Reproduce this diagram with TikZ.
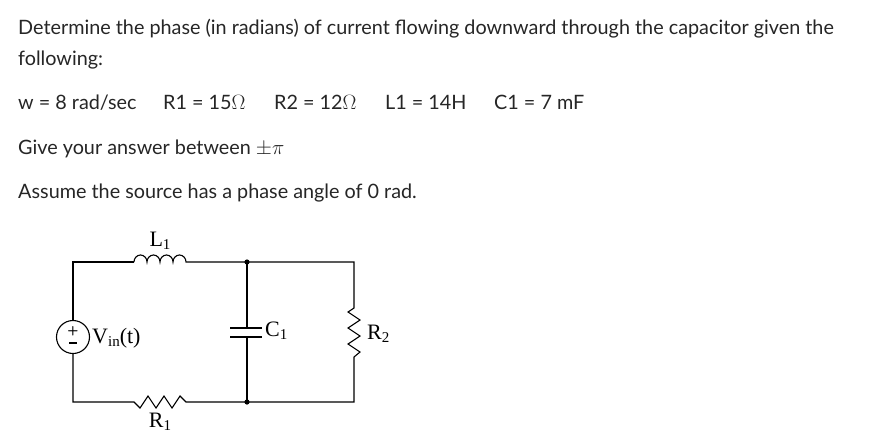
\documentclass[tikz,border=0pt]{standalone}
\usepackage{fontspec}
\setmainfont{Lato}
\newfontfamily\ckt{Liberation Serif}
\begin{document}
\begin{tikzpicture}[x=1pt,y=-1pt,
  txt/.style={anchor=base west,inner sep=0pt,font=\fontsize{19.8}{22}\selectfont,text=black!85},
  lab/.style={inner sep=0pt,font=\ckt\fontsize{22}{24}\selectfont},
  wire/.style={line width=1.1pt}]
\useasboundingbox (0,0) rectangle (875,447);
\fill[white] (0,0) rectangle (875,447);
\node[txt] (t1) at (18,34) {Determine the phase (in radians) of current flowing downward through the capacitor given the};
\node[txt] (t2) at (18,65) {following:};
\node[txt] (p1) at (18,109) {w = 8 rad/sec};
\node[txt] (p2) at (163,109) {R1 = 15$\Omega$};
\node[txt] (p3) at (274,109) {R2 = 12$\Omega$};
\node[txt] (p4) at (385,109) {L1 = 14H};
\node[txt] (p5) at (494,109) {C1 = 7 mF};
\node[txt] (t3) at (18,154) {Give your answer between $\pm\pi$};
\node[txt] (t4) at (18,198) {Assume the source has a phase angle of 0 rad.};
% coordinates
\coordinate (tl) at (73,262); \coordinate (bl) at (73,402);
\coordinate (tc) at (247,262); \coordinate (bc) at (247,402);
\coordinate (tr) at (354,262); \coordinate (br) at (354,402);
% source
\node[circle,draw,line width=1.1pt,minimum size=33pt,inner sep=0pt] (src) at (73,337) {};
\node[font=\sffamily\bfseries\fontsize{13}{13}\selectfont,inner sep=0pt] (pl) at (73,331) {+};
\draw[line width=1.2pt] (69,343) -- (77,343);
\node[lab,anchor=west] (vin) at (92,338) {V\raisebox{-0.3ex}{\fontsize{15}{15}\selectfont in}(t)};
\draw[wire] (src.north) -- (tl) -- (134,262);
\draw[wire] (134,262) arc[start angle=180,end angle=0,x radius=6.5pt,y radius=7pt]
  arc[start angle=180,end angle=0,x radius=6.5pt,y radius=7pt]
  arc[start angle=180,end angle=0,x radius=6.5pt,y radius=7pt]
  arc[start angle=180,end angle=0,x radius=6.5pt,y radius=7pt] -- (tc) -- (tr) -- (354,308)
  -- (348,312) -- (360,320) -- (348,328) -- (360,336) -- (348,344) -- (360,352) -- (354,357) -- (br) -- (bc) -- (186,402)
  -- (180,396) -- (172,408) -- (164,396) -- (156,408) -- (148,396) -- (140,408) -- (134,402) -- (bl) -- (src.south);
\node[lab,anchor=south] (L1) at (160,250) {L\raisebox{-0.3ex}{\fontsize{15}{15}\selectfont 1}};
\node[lab,anchor=north] (R1) at (160,413) {R\raisebox{-0.3ex}{\fontsize{15}{15}\selectfont 1}};
\node[lab,anchor=west] (R2) at (367,334) {R\raisebox{-0.3ex}{\fontsize{15}{15}\selectfont 2}};
\node[lab,anchor=west] (C1) at (265,331) {C\raisebox{-0.3ex}{\fontsize{15}{15}\selectfont 1}};
\draw[wire] (tc) -- (247,328) (230,328) -- (262,328) (230,337) -- (262,337) (247,337) -- (bc);
\fill (tc) circle (2.6pt) (bc) circle (2.6pt);
\end{tikzpicture}
\end{document}
